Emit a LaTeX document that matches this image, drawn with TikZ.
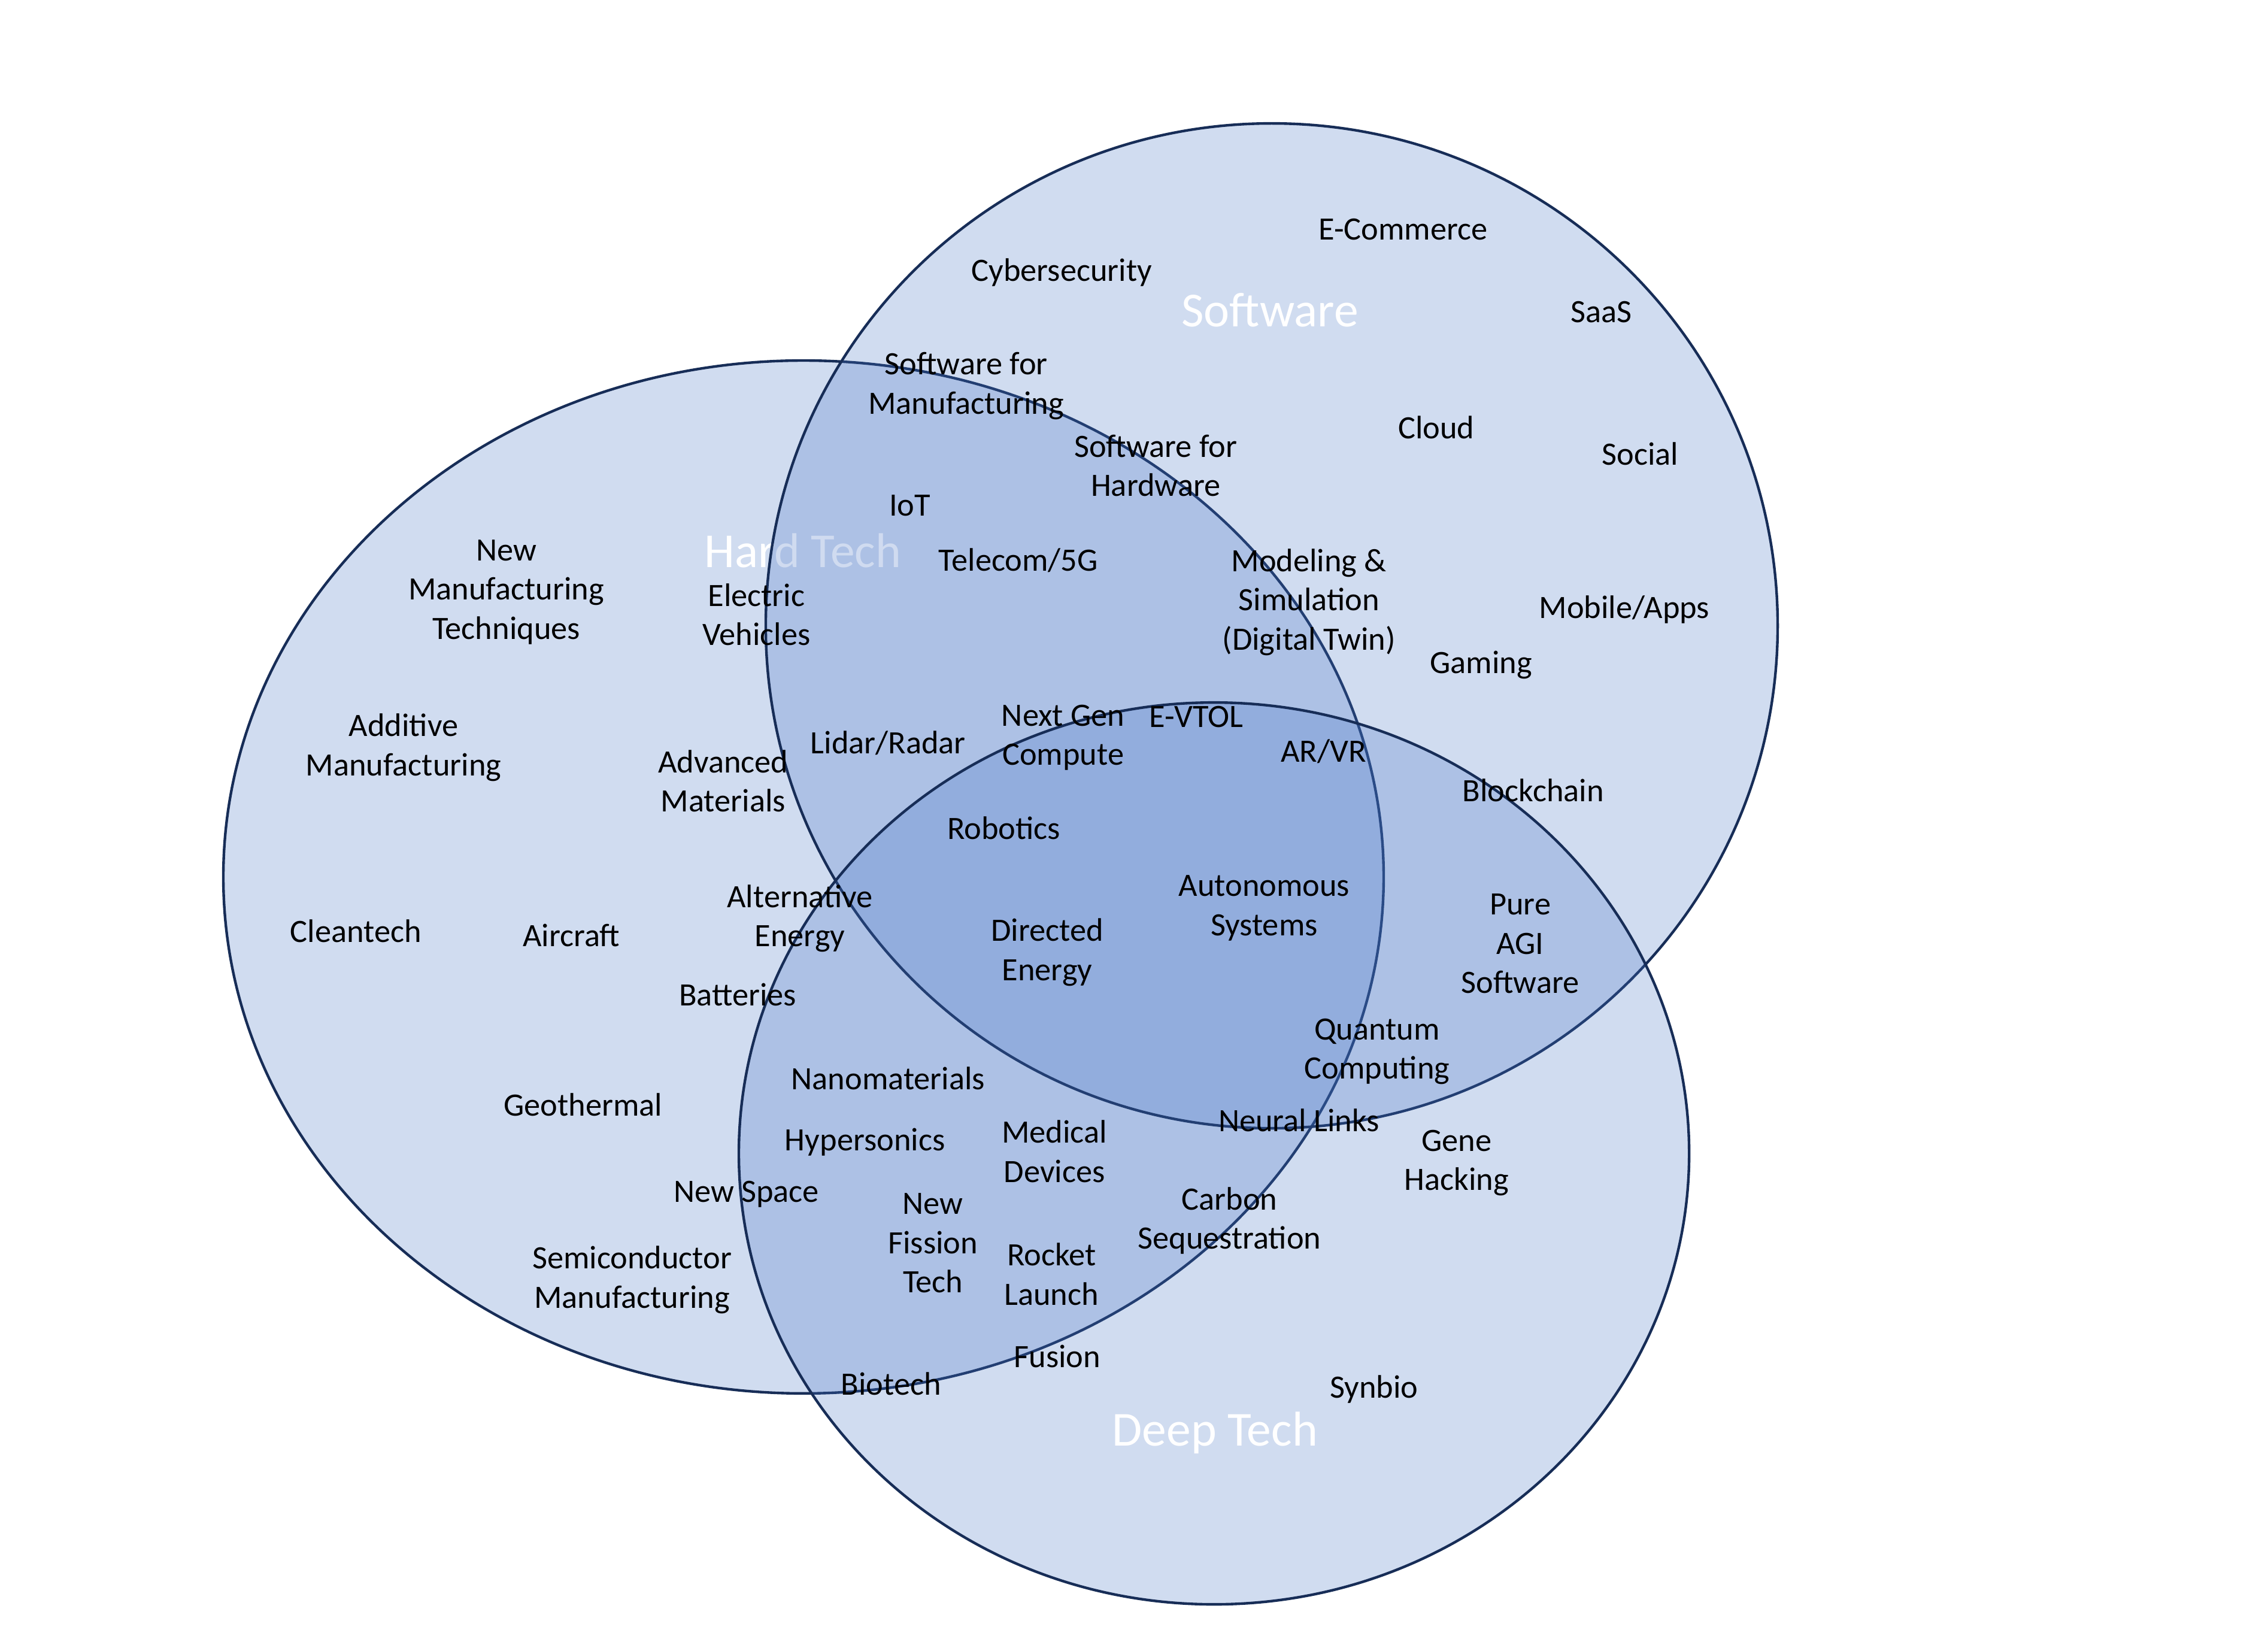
\documentclass[tikz,border=0pt]{standalone}
\usepackage{fontspec}
\setmainfont{Carlito}
\definecolor{vfill}{HTML}{4472C4}
\definecolor{vline}{HTML}{172D57}
\begin{document}
\begin{tikzpicture}[x=0.49745pt,y=-0.49745pt,
  setbox/.style={fill=vfill,fill opacity=0.25,draw=vline,draw opacity=1,line width=0.9pt},
  setlabel/.style={text=white,font=\fontsize{16.8}{20}\selectfont,inner sep=0pt,anchor=center},
  item/.style={text=black,font=\fontsize{11.2}{13.5}\selectfont,align=center,inner sep=0pt,anchor=center,yshift=-0.5pt},
  mitem/.style={text=black,font=\fontsize{11.2}{13.5}\selectfont,align=center,inner sep=0pt,anchor=center,yshift=-1.4pt}]
\useasboundingbox (0,0) rectangle (1568,1132.95);
% sets
\path[setbox] (555.5,606.2) ellipse [x radius=401.1, y radius=357];
\node[setlabel] (hard) at (555,380.5) {Hard Tech};
\path[setbox] (879.2,432.6) ellipse [x radius=349.8, y radius=347.3];
\node[setlabel] (soft) at (878,214.5) {Software};
\path[setbox] (839.3,797.3) ellipse [x radius=328.5, y radius=311.7];
\node[setlabel] (deep) at (840,990.5) {Deep Tech};
% items
\node[item] (ecom) at (970,157.5) {E-Commerce};
\node[item] (cyber) at (734,187.5) {Cybersecurity};
\node[item] (saas) at (1107,214.5) {SaaS};
\node[mitem] (swman) at (668,264) {Software for\\Manufacturing};
\node[item] (cloud) at (993,294.5) {Cloud};
\node[item] (social) at (1134,312.5) {Social};
\node[mitem] (swhw) at (799,319) {Software for\\Hardware};
\node[item] (iot) at (629,348.5) {IoT};
\node[mitem] (newman) at (350,406.5) {New\\Manufacturing\\Techniques};
\node[item] (telecom) at (704,386.5) {Telecom/5G};
\node[mitem] (ev) at (523,422) {Electric\\Vehicles};
\node[mitem] (model) at (905,413.5) {Modeling \&\\Simulation\\(Digital Twin)};
\node[item] (mobile) at (1123,420.5) {Mobile/Apps};
\node[item] (gaming) at (1024,458.5) {Gaming};
\node[mitem] (additive) at (279,514) {Additive\\Manufacturing};
\node[mitem] (nextgen) at (735,507) {Next Gen\\Compute};
\node[item] (evtol) at (827,494.5) {E-VTOL};
\node[item] (lidar) at (614,512.5) {Lidar/Radar};
\node[item] (arvr) at (915,518.5) {AR/VR};
\node[mitem] (advmat) at (500,537) {Advanced\\Materials};
\node[item] (block) at (1060,545.5) {Blockchain};
\node[item] (robot) at (694,571.5) {Robotics};
\node[mitem] (auto) at (874,625) {Autonomous\\Systems};
\node[mitem] (agi) at (1051,649.5) {Pure\\AGI\\Software};
\node[mitem] (altenergy) at (553,632) {Alternative\\Energy};
\node[item] (clean) at (246,642.5) {Cleantech};
\node[item] (aircraft) at (395,645.5) {Aircraft};
\node[mitem] (directed) at (724,655.5) {Directed\\Energy};
\node[item] (batt) at (510,686.5) {Batteries};
\node[mitem] (quantum) at (952,724) {Quantum\\Computing};
\node[item] (nano) at (614,744.5) {Nanomaterials};
\node[item] (geo) at (403,762.5) {Geothermal};
\node[item] (neural) at (898,773.5) {Neural Links};
\node[item] (hyper) at (598,788.5) {Hypersonics};
\node[mitem] (medical) at (729,793) {Medical\\Devices};
\node[mitem] (gene) at (1007,801) {Gene\\Hacking};
\node[item] (newspace) at (516,824.5) {New Space};
\node[mitem] (fission) at (645,856.5) {New\\Fission\\Tech};
\node[mitem] (carbon) at (850,841) {Carbon\\Sequestration};
\node[mitem] (rocket) at (727,878) {Rocket\\Launch};
\node[mitem] (semi) at (437,882) {Semiconductor\\Manufacturing};
\node[item] (fusion) at (731,936.5) {Fusion};
\node[item] (bio) at (616,955.5) {Biotech};
\node[item] (synbio) at (950,959.5) {Synbio};
\end{tikzpicture}
\end{document}
